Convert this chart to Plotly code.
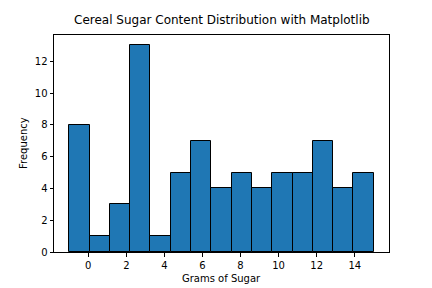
import numpy as np
import plotly.graph_objects as go

bin_edges = list(np.linspace(-1, 15, 16))
counts = [8, 1, 3, 13, 1, 5, 7, 4, 5, 4, 5, 5, 7, 4, 5]
x_ticks = [0, 2, 4, 6, 8, 10, 12, 14]
y_ticks = [0, 2, 4, 6, 8, 10, 12]

centers = [(bin_edges[i] + bin_edges[i + 1]) / 2 for i in range(len(counts))]
widths = [bin_edges[i + 1] - bin_edges[i] for i in range(len(counts))]

fig = go.Figure(go.Bar(
    x=centers, y=counts, width=widths,
    marker=dict(color="#1f77b4", line=dict(color="black", width=1)),
))

W, H = 432, 288
L, R, T, B = 54, 43, 35, 36
fig.update_layout(
    width=W, height=H,
    margin=dict(l=L, r=R, t=T, b=B),
    paper_bgcolor="white", plot_bgcolor="white",
    font=dict(family="DejaVu Sans", size=10, color="black"),
    showlegend=False,
    bargap=0,
)
xmin, xmax = bin_edges[0], bin_edges[-1]
pad = (xmax - xmin) * 0.05
fig.update_xaxes(
    range=[xmin - pad, xmax + pad], tickvals=x_ticks,
    showline=True, linecolor="black", linewidth=1, mirror=True,
    ticks="outside", ticklen=3.5, tickcolor="black", showgrid=False, zeroline=False,
    tickfont=dict(size=10),
)
fig.update_yaxes(
    range=[0, max(counts) * 1.05], tickvals=y_ticks,
    showline=True, linecolor="black", linewidth=1, mirror=True,
    ticks="outside", ticklen=3.5, tickcolor="black", showgrid=False, zeroline=False,
    tickfont=dict(size=10),
)
fig.add_annotation(text="Cereal Sugar Content Distribution with Matplotlib",
                   xref="paper", yref="paper", x=0.5, y=1, yshift=6,
                   xanchor="center", yanchor="bottom", showarrow=False,
                   font=dict(size=12))
fig.add_annotation(text="Grams of Sugar", xref="paper", yref="paper",
                   x=0.5, y=0, yshift=-19, xanchor="center", yanchor="top",
                   showarrow=False, font=dict(size=10))
fig.add_annotation(text="Frequency", xref="paper", yref="paper",
                   x=0, y=0.5, xshift=-23, xanchor="right", yanchor="middle",
                   textangle=-90, showarrow=False, font=dict(size=10))
fig.write_html("out.html")
